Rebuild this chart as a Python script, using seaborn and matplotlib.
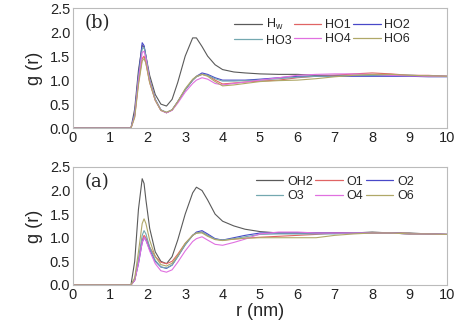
import matplotlib
matplotlib.use("Agg")
import matplotlib.pyplot as plt
import seaborn as sns
import pandas as pd

r = [0, 1.55, 1.65, 1.75, 1.85, 1.9, 1.95, 2.05, 2.2, 2.35, 2.5, 2.65, 2.8, 3.0, 3.2, 3.3, 3.45, 3.6,
     3.8, 4.0, 4.3, 4.6, 5.0, 5.5, 6.0, 6.5, 7.0, 7.5, 8.0, 8.5, 9.0, 9.5, 10.0]

# panel (b)
Hw  = [0, 0, 0.4, 1.2, 1.72, 1.7, 1.5, 1.1, 0.7, 0.5, 0.46, 0.6, 0.95, 1.5, 1.88, 1.88, 1.7, 1.5,
       1.32, 1.22, 1.17, 1.15, 1.13, 1.12, 1.12, 1.1, 1.1, 1.1, 1.1, 1.1, 1.1, 1.09, 1.08]
HO1 = [0, 0, 0.25, 0.95, 1.45, 1.5, 1.35, 0.95, 0.58, 0.37, 0.32, 0.38, 0.55, 0.8, 1.0, 1.07, 1.12, 1.1,
       1.0, 0.92, 0.94, 0.96, 0.98, 1.0, 1.05, 1.08, 1.1, 1.13, 1.15, 1.13, 1.1, 1.1, 1.08]
HO2 = [0, 0, 0.3, 1.1, 1.78, 1.72, 1.5, 1.0, 0.6, 0.38, 0.32, 0.38, 0.55, 0.8, 1.0, 1.08, 1.15, 1.12,
       1.05, 1.0, 1.0, 1.0, 1.02, 1.05, 1.08, 1.08, 1.08, 1.08, 1.08, 1.08, 1.08, 1.07, 1.07]
HO3 = [0, 0, 0.28, 1.05, 1.65, 1.68, 1.5, 1.0, 0.6, 0.38, 0.33, 0.38, 0.55, 0.8, 1.0, 1.07, 1.12, 1.1,
       1.03, 0.98, 0.98, 0.99, 1.0, 1.03, 1.06, 1.08, 1.08, 1.1, 1.1, 1.1, 1.1, 1.09, 1.08]
HO4 = [0, 0, 0.25, 1.0, 1.58, 1.6, 1.45, 0.98, 0.58, 0.37, 0.32, 0.37, 0.52, 0.75, 0.93, 1.0, 1.05, 1.02,
       0.93, 0.9, 0.93, 0.96, 1.0, 1.05, 1.1, 1.12, 1.13, 1.13, 1.12, 1.1, 1.09, 1.08, 1.08]
HO6 = [0, 0, 0.22, 0.9, 1.4, 1.45, 1.35, 0.95, 0.58, 0.37, 0.33, 0.38, 0.55, 0.82, 1.02, 1.08, 1.12, 1.08,
       0.97, 0.88, 0.9, 0.93, 0.97, 0.99, 1.0, 1.03, 1.07, 1.1, 1.12, 1.12, 1.1, 1.09, 1.08]

# panel (a)
OH2 = [0, 0, 0.5, 1.6, 2.25, 2.15, 1.8, 1.2, 0.7, 0.5, 0.45, 0.6, 0.95, 1.5, 1.95, 2.07, 2.0, 1.8,
       1.5, 1.35, 1.25, 1.18, 1.13, 1.1, 1.1, 1.1, 1.1, 1.1, 1.12, 1.1, 1.1, 1.08, 1.07]
O1  = [0, 0, 0.1, 0.5, 0.95, 1.05, 1.0, 0.8, 0.6, 0.48, 0.45, 0.5, 0.65, 0.88, 1.05, 1.1, 1.12, 1.05,
       0.97, 0.95, 0.97, 0.99, 1.01, 1.03, 1.05, 1.07, 1.1, 1.1, 1.1, 1.1, 1.09, 1.08, 1.07]
O2  = [0, 0, 0.1, 0.45, 0.9, 1.0, 0.95, 0.75, 0.5, 0.38, 0.35, 0.42, 0.6, 0.85, 1.05, 1.12, 1.15, 1.08,
       0.98, 0.95, 1.0, 1.05, 1.1, 1.1, 1.1, 1.1, 1.1, 1.1, 1.1, 1.1, 1.08, 1.08, 1.07]
O3  = [0, 0, 0.12, 0.55, 1.05, 1.15, 1.08, 0.8, 0.52, 0.38, 0.36, 0.42, 0.6, 0.85, 1.05, 1.1, 1.12, 1.05,
       0.97, 0.95, 0.98, 1.02, 1.07, 1.08, 1.08, 1.08, 1.08, 1.1, 1.1, 1.1, 1.08, 1.08, 1.07]
O4  = [0, 0, 0.1, 0.45, 0.9, 1.0, 0.95, 0.72, 0.45, 0.3, 0.27, 0.32, 0.48, 0.72, 0.92, 0.98, 1.02, 0.95,
       0.86, 0.84, 0.9, 0.97, 1.08, 1.12, 1.12, 1.1, 1.1, 1.1, 1.1, 1.1, 1.08, 1.08, 1.07]
O6  = [0, 0, 0.15, 0.7, 1.3, 1.4, 1.3, 0.95, 0.6, 0.43, 0.4, 0.46, 0.62, 0.88, 1.05, 1.1, 1.1, 1.03,
       0.96, 0.94, 0.97, 0.99, 1.0, 1.0, 1.0, 1.0, 1.05, 1.08, 1.1, 1.1, 1.08, 1.08, 1.07]

labels_b = ["H$_\\mathregular{w}$", "HO1", "HO2", "HO3", "HO4", "HO6"]
labels_a = ["OH2", "O1", "O2", "O3", "O4", "O6"]
series_b = [Hw, HO1, HO2, HO3, HO4, HO6]
series_a = [OH2, O1, O2, O3, O4, O6]
colors = ["#5a5a5a", "#e06464", "#4848c8", "#74a8b0", "#e070e0", "#b0a868"]

xticks = list(range(0, 11))
yticks = [0.0, 0.5, 1.0, 1.5, 2.0, 2.5]

sns.set_style("white")
plt.rcParams['font.family'] = ['Liberation Sans', 'DejaVu Sans']

fig = plt.figure(figsize=(4.74, 3.26), dpi=100)
ax_b = fig.add_axes([0.154, 0.607, 0.789, 0.368])
ax_a = fig.add_axes([0.154, 0.126, 0.789, 0.362])


def draw(ax, labels, series, tag, anchor_x):
    rows = []
    for lab, ys in zip(labels, series):
        for x, y in zip(r, ys):
            rows.append({"r": x, "g": y, "s": lab})
    df = pd.DataFrame(rows)
    sns.lineplot(data=df, x="r", y="g", hue="s", palette=dict(zip(labels, colors)),
                 ax=ax, linewidth=0.8, legend=False, sort=False)
    ax.set_xlim(0, 10)
    ax.set_ylim(0, 2.5)
    ax.set_xticks(xticks)
    ax.set_yticks(yticks)
    ax.set_xticklabels([str(t) for t in xticks], fontsize=10.5)
    ax.set_yticklabels([f"{t:.1f}" for t in yticks], fontsize=10.5)
    ax.set_ylabel("g (r)", fontsize=13, labelpad=5)
    ax.set_xlabel("")
    for sp in ax.spines.values():
        sp.set_color("#bbbbbb")
        sp.set_linewidth(0.8)
    ax.tick_params(length=0, pad=2, colors="#222222")
    ax.text(0.03, 0.95, tag, transform=ax.transAxes, fontsize=13, va="top", ha="left",
            family="DejaVu Serif")
    handles = [plt.Line2D([], [], color=c, lw=0.9) for c in colors]
    order = [0, 3, 1, 4, 2, 5]
    ax.legend([handles[i] for i in order], [labels[i] for i in order], ncol=3, frameon=False,
              fontsize=9, loc="upper right", bbox_to_anchor=(anchor_x, 1.0), handlelength=2.2,
              columnspacing=0.2, handletextpad=0.3, labelspacing=0.2, borderaxespad=0.3)


draw(ax_b, labels_b, series_b, "(b)", 0.925)
draw(ax_a, labels_a, series_a, "(a)", 0.935)
ax_a.set_xlabel("r (nm)", fontsize=13, labelpad=1)

fig.savefig("out.png", dpi=100)
